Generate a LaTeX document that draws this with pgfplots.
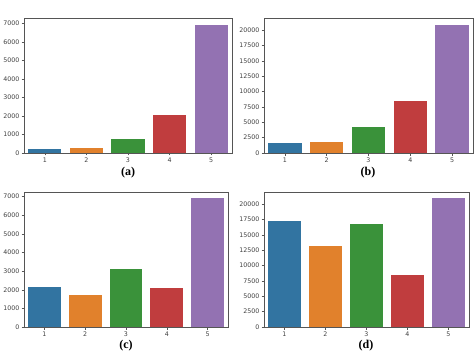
\documentclass[border=0pt]{standalone}
\usepackage{fontspec}
\setmainfont{Liberation Serif}
\newfontfamily\tickfont{DejaVu Sans}
\usepackage{pgfplots}
\pgfplotsset{compat=1.18}
\definecolor{sbblue}{HTML}{3274A1}
\definecolor{sborange}{HTML}{E1812C}
\definecolor{sbgreen}{HTML}{3A923A}
\definecolor{sbred}{HTML}{C03D3E}
\definecolor{sbpurple}{HTML}{9372B2}
\definecolor{framecol}{HTML}{555555}
\pgfplotsset{
  panel/.style={
    scale only axis,
    ybar, bar width=0.8, bar shift=0pt,
    xmin=-0.5, xmax=4.5, ymin=0,
    xtick={0,1,2,3,4}, xticklabels={1,2,3,4,5},
    tick align=outside, tick pos=left,
    major tick length=2.5pt,
    axis line style={framecol, line width=0.6pt},
    tick style={framecol, line width=0.5pt},
    ticklabel style={font=\tickfont\fontsize{6.3}{7}\selectfont, text=black!75},
    /pgf/number format/assume math mode=true,
    /pgf/number format/set thousands separator={},
    /pgf/number format/fixed,
    scaled y ticks=false,
    xticklabel style={yshift=1pt},
    yticklabel style={xshift=1.5pt},
    every axis plot/.append style={draw=none},
    anchor=north west,
  },
}
\tikzset{panelcap/.style={font=\bfseries\fontsize{12}{13}\selectfont}}
\begin{document}
\begin{tikzpicture}
\path (0pt,0pt) rectangle (474pt,-356pt);
% (a)
\begin{axis}[panel, at={(24pt,-18pt)}, width=208pt, height=135pt,
  ymax=7290, ytick={0,1000,...,7000}]
\addplot[fill=sbblue] coordinates {(0,240)};
\addplot[fill=sborange] coordinates {(1,290)};
\addplot[fill=sbgreen] coordinates {(2,780)};
\addplot[fill=sbred] coordinates {(3,2075)};
\addplot[fill=sbpurple] coordinates {(4,6930)};
\end{axis}
\node[panelcap] at (128pt,-173pt) {(a)};
% (b)
\begin{axis}[panel, at={(264pt,-18pt)}, width=209pt, height=135pt,
  ymax=21960, ytick={0,2500,...,20000}]
\addplot[fill=sbblue] coordinates {(0,1630)};
\addplot[fill=sborange] coordinates {(1,1860)};
\addplot[fill=sbgreen] coordinates {(2,4200)};
\addplot[fill=sbred] coordinates {(3,8450)};
\addplot[fill=sbpurple] coordinates {(4,20850)};
\end{axis}
\node[panelcap] at (368pt,-173pt) {(b)};
% (c)
\begin{axis}[panel, at={(24pt,-192pt)}, width=204pt, height=135pt,
  ymax=7250, ytick={0,1000,...,7000}]
\addplot[fill=sbblue] coordinates {(0,2150)};
\addplot[fill=sborange] coordinates {(1,1720)};
\addplot[fill=sbgreen] coordinates {(2,3090)};
\addplot[fill=sbred] coordinates {(3,2070)};
\addplot[fill=sbpurple] coordinates {(4,6930)};
\end{axis}
\node[panelcap] at (126pt,-346pt) {(c)};
% (d)
\begin{axis}[panel, at={(264pt,-192pt)}, width=205pt, height=135pt,
  ymax=21970, ytick={0,2500,...,20000}]
\addplot[fill=sbblue] coordinates {(0,17260)};
\addplot[fill=sborange] coordinates {(1,13200)};
\addplot[fill=sbgreen] coordinates {(2,16770)};
\addplot[fill=sbred] coordinates {(3,8410)};
\addplot[fill=sbpurple] coordinates {(4,20930)};
\end{axis}
\node[panelcap] at (366pt,-346pt) {(d)};
\end{tikzpicture}
\end{document}
